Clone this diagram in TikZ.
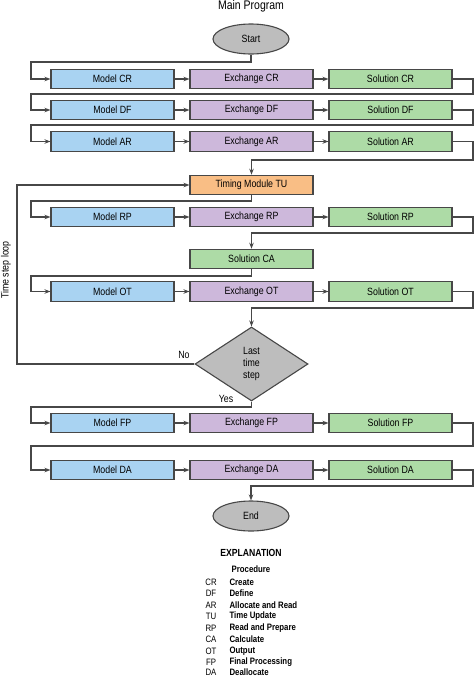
\documentclass[tikz,border=0pt]{standalone}
\usepackage{fontspec}
\setmainfont[FakeStretch=0.84]{Liberation Sans}
\usepackage{tikz}
\usetikzlibrary{arrows.meta, positioning, shapes.geometric}

\definecolor{modelblue}{HTML}{A9D3F2}
\definecolor{exchpurple}{HTML}{CDB8DB}
\definecolor{solgreen}{HTML}{ADDBA6}
\definecolor{timeorange}{HTML}{F9BE85}
\definecolor{termgray}{HTML}{BDBDBD}
\definecolor{edgegray}{HTML}{474747}

\tikzset{
	box/.style={draw=edgegray, line width=1.1pt, minimum width=123pt, minimum height=19.5pt, inner sep=0pt, font=\fontsize{10.5}{12}\selectfont},
	model/.style={box, fill=modelblue},
	exch/.style={box, fill=exchpurple},
	sol/.style={box, fill=solgreen},
	timing/.style={box, fill=timeorange},
	term/.style={ellipse, draw=edgegray, line width=1.1pt, fill=termgray, minimum width=76pt, minimum height=30pt, inner sep=0pt, font=\fontsize{10.5}{12}\selectfont},
	decision/.style={diamond, draw=edgegray, line width=1.1pt, fill=termgray, minimum width=113pt, minimum height=74pt, inner sep=0pt, align=center, font=\fontsize{10.5}{12}\selectfont},
	arr/.style={draw=edgegray, line width=1.1pt, -{Stealth[length=6pt,width=4.5pt]}},
	lbl/.style={font=\fontsize{10.5}{12}\selectfont},
	abbr/.style={font=\fontsize{9.3}{11}\selectfont},
	expl/.style={anchor=west, font=\fontsize{9.3}{11}\selectfont\bfseries}
}

\begin{document}
\begin{tikzpicture}[x=1pt, y=-1pt]
	\useasboundingbox (0,0) rectangle (474,678);

	\node[font=\fontsize{12.5}{14}\selectfont] (title) at (251,6) {Main Program};
	\node[term] (start) at (251,39) {Start};

	\node[model] (MCR) at (112.5,79) {Model CR};
	\node[exch] (ECR) at (251.5,79) {Exchange CR};
	\node[sol] (SCR) at (390.5,79) {Solution CR};

	\node[model] (MDF) at (112.5,110) {Model DF};
	\node[exch] (EDF) at (251.5,110) {Exchange DF};
	\node[sol] (SDF) at (390.5,110) {Solution DF};

	\node[model] (MAR) at (112.5,141.5) {Model AR};
	\node[exch] (EAR) at (251.5,141.5) {Exchange AR};
	\node[sol] (SAR) at (390.5,141.5) {Solution AR};

	\node[timing] (TU) at (251.5,185) {Timing Module TU};

	\node[model] (MRP) at (112.5,217) {Model RP};
	\node[exch] (ERP) at (251.5,217) {Exchange RP};
	\node[sol] (SRP) at (390.5,217) {Solution RP};

	\node[sol] (SCA) at (251.5,259) {Solution CA};

	\node[model] (MOT) at (112.5,291.5) {Model OT};
	\node[exch] (EOT) at (251.5,291.5) {Exchange OT};
	\node[sol] (SOT) at (390.5,291.5) {Solution OT};

	\node[decision] (last) at (251.5,364) {Last\\time\\step};
	\node[lbl] (no) at (184,355) {No};
	\node[lbl] (yes) at (226,399) {Yes};
	\node[lbl, rotate=90] (loop) at (6,270) {Time step loop};

	\node[model] (MFP) at (112.5,423) {Model FP};
	\node[exch] (EFP) at (251.5,423) {Exchange FP};
	\node[sol] (SFP) at (390.5,423) {Solution FP};

	\node[model] (MDA) at (112.5,470) {Model DA};
	\node[exch] (EDA) at (251.5,470) {Exchange DA};
	\node[sol] (SDA) at (390.5,470) {Solution DA};

	\node[term] (end) at (251,516) {End};

	% turning points of the connectors
	\coordinate (l0) at (31,62);
	\coordinate (r1) at (473,94);  \coordinate (l1) at (31,94);
	\coordinate (r2) at (473,125); \coordinate (l2) at (31,125);
	\coordinate (r3) at (473,160);
	\coordinate (l4) at (31,201);
	\coordinate (r5) at (473,233);
	\coordinate (l6) at (31,276);
	\coordinate (r7) at (473,308);
	\coordinate (lp) at (17,364);
	\coordinate (l8) at (31,407);
	\coordinate (r9) at (473,446); \coordinate (l9) at (31,446);
	\coordinate (r10) at (473,486);

	\draw[arr] (start.south) |- (l0) |- (MCR.west);
	\draw[arr] (MCR) -- (ECR);
	\draw[arr] (ECR) -- (SCR);
	\draw[arr] (SCR.east) -| (r1) -- (l1) |- (MDF.west);
	\draw[arr] (MDF) -- (EDF);
	\draw[arr] (EDF) -- (SDF);
	\draw[arr] (SDF.east) -| (r2) -- (l2) |- (MAR.west);
	\draw[arr] (MAR) -- (EAR);
	\draw[arr] (EAR) -- (SAR);
	\draw[arr] (SAR.east) -| (r3) -| (TU.north);
	\draw[arr] (TU.south) |- (l4) |- (MRP.west);
	\draw[arr] (MRP) -- (ERP);
	\draw[arr] (ERP) -- (SRP);
	\draw[arr] (SRP.east) -| (r5) -| (SCA.north);
	\draw[arr] (SCA.south) |- (l6) |- (MOT.west);
	\draw[arr] (MOT) -- (EOT);
	\draw[arr] (EOT) -- (SOT);
	\draw[arr] (SOT.east) -| (r7) -| (last.north);
	\draw[arr] (last.west) -- (lp) |- (TU.west);
	\draw[arr] (last.south) |- (l8) |- (MFP.west);
	\draw[arr] (MFP) -- (EFP);
	\draw[arr] (EFP) -- (SFP);
	\draw[arr] (SFP.east) -| (r9) -- (l9) |- (MDA.west);
	\draw[arr] (MDA) -- (EDA);
	\draw[arr] (EDA) -- (SDA);
	\draw[arr] (SDA.east) -| (r10) -| (end.north);

	% explanation
	\node[font=\fontsize{10.3}{12}\selectfont\bfseries] (explhead) at (251,553) {EXPLANATION};
	\node[font=\fontsize{9.3}{11}\selectfont\bfseries] (prochead) at (251,569) {Procedure};

	\node[abbr] (aCR) at (211,582) {CR}; \node[expl] (tCR) at (226,582) {Create};
	\node[abbr] (aDF) at (211,593.5) {DF}; \node[expl] (tDF) at (226,593.5) {Define};
	\node[abbr] (aAR) at (211,605) {AR}; \node[expl] (tAR) at (226,605) {Allocate and Read};
	\node[abbr] (aTU) at (211,616.5) {TU}; \node[expl] (tTU) at (226,616.5) {Time Update};
	\node[abbr] (aRP) at (211,628) {RP}; \node[expl] (tRP) at (226,628) {Read and Prepare};
	\node[abbr] (aCA) at (211,639.5) {CA}; \node[expl] (tCA) at (226,639.5) {Calculate};
	\node[abbr] (aOT) at (211,651) {OT}; \node[expl] (tOT) at (226,651) {Output};
	\node[abbr] (aFP) at (211,662) {FP}; \node[expl] (tFP) at (226,662) {Final Processing};
	\node[abbr] (aDA) at (211,672.5) {DA}; \node[expl] (tDA) at (226,672.5) {Deallocate};
\end{tikzpicture}
\end{document}
